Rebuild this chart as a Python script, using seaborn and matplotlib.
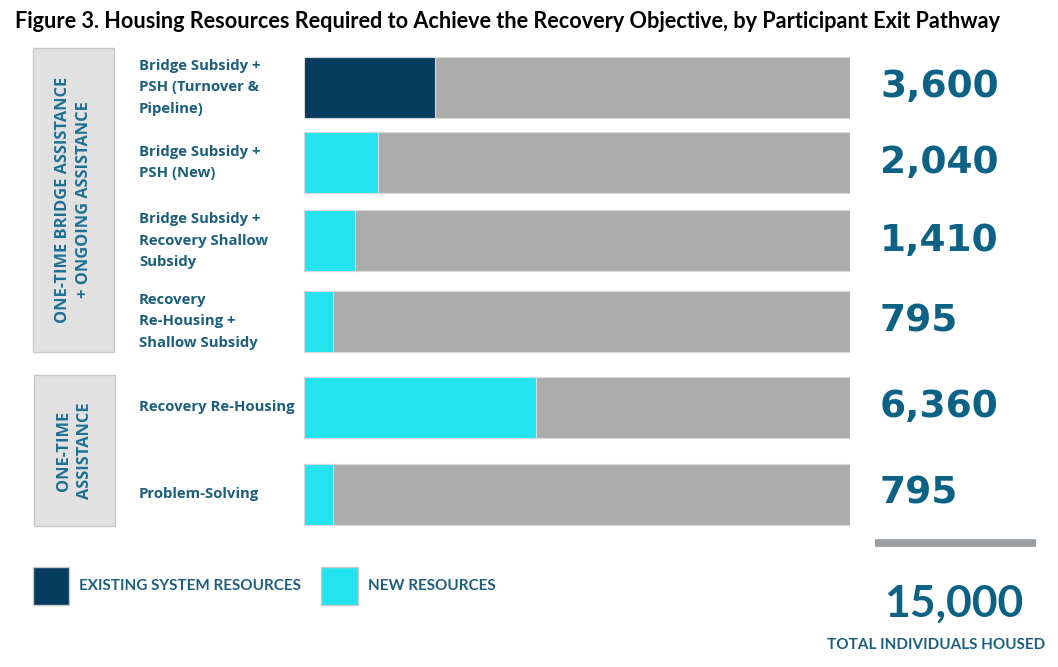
import matplotlib
matplotlib.use("Agg")
import matplotlib.pyplot as plt
import matplotlib.patches as mpatches
import seaborn as sns
import pandas as pd

# ---- data ----
categories = [
    "Bridge Subsidy +\nPSH (Turnover &\nPipeline)",
    "Bridge Subsidy +\nPSH (New)",
    "Bridge Subsidy +\nRecovery Shallow\nSubsidy",
    "Recovery\nRe-Housing +\nShallow Subsidy",
    "Recovery Re-Housing",
    "Problem-Solving",
]
values = [3600, 2040, 1410, 795, 6360, 795]
resource_type = ["Existing System Resources", "New Resources", "New Resources",
                 "New Resources", "New Resources", "New Resources"]
value_labels = ["3,600", "2,040", "1,410", "795", "6,360", "795"]
total_value = 15000
total_label = "15,000"
group_labels = ["ONE-TIME BRIDGE ASSISTANCE\n+ ONGOING ASSISTANCE", "ONE-TIME\nASSISTANCE"]
legend_labels = ["EXISTING SYSTEM RESOURCES", "NEW RESOURCES"]
title = "Figure 3. Housing Resources Required to Achieve the Recovery Objective, by Participant Exit Pathway"

# ---- layout (pixels, figure is 1058 x 667) ----
W, H = 1058, 667
row_pos = [87.5, 162.5, 240.5, 321.5, 407, 494]
bar_h = 61

C_DARK = "#053b5c"
C_CYAN = "#23e4ee"
C_GRAY = "#acacac"
C_TEXT = "#1c5f7c"
C_NUM = "#0c6285"

sns.set_theme(style="white")
plt.rcParams["font.family"] = ["Lato", "DejaVu Sans"]

fig = plt.figure(figsize=(W / 100, H / 100), dpi=100)
ax = fig.add_axes([304 / W, 0, 546 / W, 1])

df = pd.DataFrame({"pos": row_pos, "value": values, "type": resource_type,
                   "total": [total_value] * len(values)})

min_gap = min(b - a for a, b in zip(row_pos[:-1], row_pos[1:]))
wfrac = bar_h / min_gap

sns.barplot(data=df, x="total", y="pos", orient="h", native_scale=True,
            color=C_GRAY, saturation=1, width=wfrac, ax=ax, errorbar=None)
sns.barplot(data=df, x="value", y="pos", hue="type", orient="h", native_scale=True,
            palette={"Existing System Resources": C_DARK, "New Resources": C_CYAN},
            saturation=1, width=wfrac, dodge=False, ax=ax, errorbar=None, legend=False)
for p in ax.patches:
    p.set_edgecolor("#d8d8d8")
    p.set_linewidth(0.8)

ax.set_xlim(0, total_value)
ax.set_ylim(H, 0)
ax.axis("off")


def fx(x):
    return x / W


def fy(y):
    return 1 - y / H


# title
fig.text(fx(15), fy(21), title, fontsize=15.6, fontweight="bold", color="black",
         ha="left", va="center")

# row labels
for cat, y in zip(categories, row_pos):
    fig.text(fx(139), fy(y), cat, fontsize=10.7, fontweight="bold", color=C_TEXT,
             ha="left", va="center", linespacing=1.68, family=["Open Sans", "DejaVu Sans"])

# value labels
for lab, y in zip(value_labels, row_pos):
    fig.text(fx(880), fy(y), lab, fontsize=27, fontweight="bold", color=C_NUM,
             ha="left", va="center", family=["DejaVu Sans"])

# group boxes
boxes = [(33, 48, 81, 304), (34, 375, 81, 151)]
for (bx, by, bw, bh), lab in zip(boxes, group_labels):
    r = mpatches.Rectangle((fx(bx), fy(by + bh)), bw / W, bh / H, transform=fig.transFigure,
                           facecolor="#e1e1e1", edgecolor="#c9c9c9", linewidth=1)
    fig.patches.append(r)
    fig.text(fx(bx + bw / 2), fy(by + bh / 2), lab, rotation=90, fontsize=11.8,
             fontweight="bold", color="#1f7094", ha="center", va="center",
             multialignment="center", linespacing=1.4, family=["Open Sans", "DejaVu Sans"])

# legend
handles = [mpatches.Patch(facecolor=C_DARK, edgecolor="#c8c8c8"),
           mpatches.Patch(facecolor=C_CYAN, edgecolor="#c8c8c8")]
leg = fig.legend(handles, legend_labels, loc="center left", bbox_to_anchor=(fx(19), fy(586)),
                 ncol=2, frameon=False, handlelength=2.4, handleheight=3.4,
                 handletextpad=0.65, columnspacing=1.3,
                 prop={"family": ["Lato"], "weight": "bold", "size": 11})
for t in leg.get_texts():
    t.set_color(C_TEXT)

# total separator line and total
fig.add_artist(plt.Line2D([fx(875), fx(1036)], [fy(543), fy(543)], transform=fig.transFigure,
                          color="#9a9ea1", linewidth=5.5, solid_capstyle="butt"))
fig.text(fx(954), fy(604), total_label, fontsize=32, fontweight="bold", color=C_NUM,
         ha="center", va="center", family=["Lato"])
fig.text(fx(936), fy(645), "TOTAL INDIVIDUALS HOUSED", fontsize=11, fontweight="bold",
         color=C_TEXT, ha="center", va="center", family=["Lato"])

fig.savefig("out.png", dpi=100, facecolor="white")
